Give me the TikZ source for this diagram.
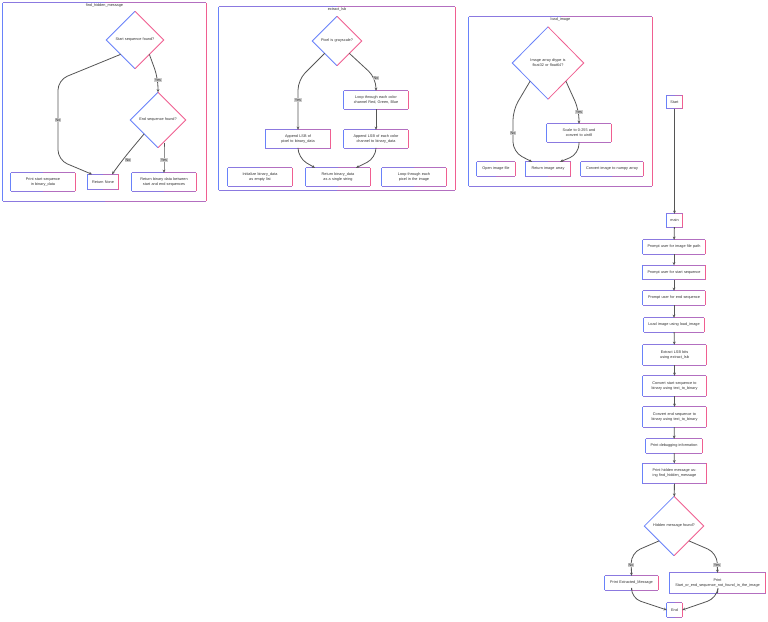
\documentclass[tikz,border=0pt]{standalone}
\usepackage{fontspec}
\setmainfont{Liberation Sans}
\usetikzlibrary{shapes.geometric,arrows.meta}
\definecolor{cb}{RGB}{105,130,250}
\definecolor{cp}{RGB}{240,95,145}
\definecolor{linec}{RGB}{85,85,85}
\definecolor{labc}{RGB}{205,205,205}
\definecolor{txtc}{RGB}{50,50,50}
\newcommand\fsz{\fontsize{3.8}{5}\selectfont}
\tikzset{
 gb/.style={draw=none, inner sep=0pt},
 gd/.style={diamond, draw=none, inner sep=0pt},
 fr/.style={line width=0.8pt},
 txt/.style={font=\fsz, text=txtc, align=center, inner sep=0pt},
 edge/.style={draw=linec, line width=0.8pt, rounded corners=10pt, -{Stealth[length=3.2pt,width=2.8pt]}},
 lab/.style={fill=labc, font=\fsz, inner sep=0.8pt, text=txtc}
}
\newcommand\gbx[5]{\pgfmathsetmacro\mytw{#3-7}%
\node[gb, minimum width=#3pt, minimum height=#4pt] (#1) at (#2) {};
\draw[fr, cb!45!cp] (#1.north west) -- (#1.north east) (#1.south west) -- (#1.south east);
\draw[fr, cb!75!cp] (#1.north west) -- (#1.north) (#1.south west) -- (#1.south);
\draw[fr, cb] (#1.north west) -- (#1.south west);
\draw[fr, cp] (#1.north east) -- (#1.south east);
\node[txt, text width=\mytw pt] at (#1) {#5};}
\newcommand\gdi[6]{%
\node[gd, minimum width=#3pt, minimum height=#4pt] (#1) at (#2) {};
\draw[fr, cb, line join=miter] (#1.north) -- (#1.west) -- (#1.south);
\draw[fr, cp, line join=miter] (#1.north) -- (#1.east) -- (#1.south);
\node[txt, text width=#5pt] at (#1) {#6};}
\begin{document}
\begin{tikzpicture}[x=1pt,y=-1pt]
\useasboundingbox[fill=white] (0,0) rectangle (768,621);
% clusters
\gbx{c1}{104.5,102}{203}{198}{}
\node[txt] (t1) at (104.5,6) {find\_hidden\_message};
\gbx{c2}{337,98.5}{236}{183}{}
\node[txt] (t2) at (337,10) {extract\_lsb};
\gbx{c3}{560.5,101.5}{183}{169}{}
\node[txt] (t3) at (560.5,20) {load\_image};
% find_hidden_message
\gdi{d1}{135,40}{57}{57}{40}{Start sequence found?}
\gdi{d2}{158,120}{55}{55}{40}{End sequence found?}
\gbx{pss}{43,182}{64}{18}{Print start sequence in binary\_data}
\gbx{rn}{103,182}{31}{15}{Return None}
\gbx{rbd}{164,182}{64}{18}{Return binary data between start and end sequences}
\draw[edge] (d1.south west) -- (58,80) -- (58,160) -- ([xshift=-11pt]rn.north);
\node[lab] (l1) at (58,120) {No};
\draw[edge] (d1.south east) -- (158,78) -- (d2.north);
\node[lab] (l2) at (158,80) {Yes};
\draw[edge] (d2.south west) -- (124,158) -- ([xshift=9pt]rn.north);
\node[lab] (l3) at (128,160) {No};
\draw[edge] ([xshift=6pt,yshift=5pt]d2.south) -- (164,160) -- (rbd.north);
\node[lab] (l4) at (164,160) {Yes};
% extract_lsb
\gdi{d3}{337,41}{49}{49}{36}{Pixel is grayscale?}
\gbx{lc}{376,100}{64}{18}{Loop through each color channel Red, Green, Blue}
\gbx{ap}{298,139}{65}{18}{Append LSB of pixel to binary\_data}
\gbx{ae}{376,139}{64}{18}{Append LSB of each color channel to binary\_data}
\gbx{ib}{260,177}{64}{18}{Initialize binary\_data as empty list}
\gbx{rb}{338,177}{64}{18}{Return binary\_data as a single string}
\gbx{lp}{414,177}{64}{18}{Loop through each pixel in the image}
\draw[edge] (d3.south west) -- (298,80) -- (ap.north);
\node[lab] (l5) at (298,100) {Yes};
\draw[edge] (d3.south east) -- (376,78) -- (lc.north);
\node[lab] (l6) at (376,78) {No};
\draw[edge] (lc) -- (ae);
\draw[edge] (ap.south) -- (298,158) -- ([xshift=-23pt]rb.north);
\draw[edge] (ae.south) -- (376,158) -- ([xshift=18pt]rb.north);
% load_image
\gdi{d4}{548,63}{71}{72}{50}{Image array dtype is float32 or float64?}
\gbx{sc}{579,133}{64}{18}{Scale to 0-255 and convert to uint8}
\gbx{oi}{496,169}{38}{14}{Open image file}
\gbx{ri}{548,169}{45}{14}{Return image array}
\gbx{cn}{612,169}{62}{14}{Convert image to numpy array}
\draw[edge] (d4.south west) -- (513,110) -- (513,152) -- ([xshift=-16pt]ri.north);
\node[lab] (l7) at (513,133) {No};
\draw[edge] (d4.south east) -- (579,110) -- (sc.north);
\node[lab] (l8) at (579,112) {Yes};
\draw[edge] (sc.south) -- (579,154) -- ([xshift=12pt]ri.north);
% main flow
\gbx{st}{674.5,102}{16}{13}{Start}
\gbx{mn}{674.5,220.5}{16}{13}{main}
\gbx{p1}{674,247}{62}{14}{Prompt user for image file path}
\gbx{p2}{674,272.5}{62}{14}{Prompt user for start sequence}
\gbx{p3}{674,298}{62}{14}{Prompt user for end sequence}
\gbx{p4}{674,325}{60}{14}{Load image using load\_image}
\gbx{p5}{674.5,355}{63}{20}{Extract LSB bits using extract\_lsb}
\gbx{p6}{674.5,386}{63}{20}{Convert start sequence to binary using text\_to\_binary}
\gbx{p7}{674.5,417}{63}{20}{Convert end sequence to binary using text\_to\_binary}
\gbx{p8}{674,446}{56}{14}{Print debugging information}
\gbx{p9}{674.5,473.5}{63}{20}{Print hidden message using find\_hidden\_message}
\gdi{d5}{674,526}{59}{59}{50}{Hidden message found?}
\gbx{pe}{631.5,583}{53}{14}{Print Extracted\_Message}
\gbx{pn}{717.5,583}{96}{20}{Print\\ Start\_or\_end\_sequence\_not\_found\_in\_the\_image}
\gbx{en}{674.5,610}{15}{14}{End}
\draw[edge] (st) -- (mn);
\draw[edge] (mn) -- (p1);
\draw[edge] (p1) -- (p2);
\draw[edge] (p2) -- (p3);
\draw[edge] (p3) -- (p4);
\draw[edge] (p4) -- (p5);
\draw[edge] (p5) -- (p6);
\draw[edge] (p6) -- (p7);
\draw[edge] (p7) -- (p8);
\draw[edge] (p8) -- (p9);
\draw[edge] (p9) -- (d5);
\draw[edge] (d5.south west) -- (631,553) -- (pe.north);
\node[lab] (l9) at (631,565) {No};
\draw[edge] (d5.south east) -- (717,553) -- (pn.north);
\node[lab] (l10) at (717,565) {Yes};
\draw[edge] (pe.south) -- (631,598) -- (en.west);
\draw[edge] (pn.south) -- (717,598) -- (en.east);
\end{tikzpicture}
\end{document}
